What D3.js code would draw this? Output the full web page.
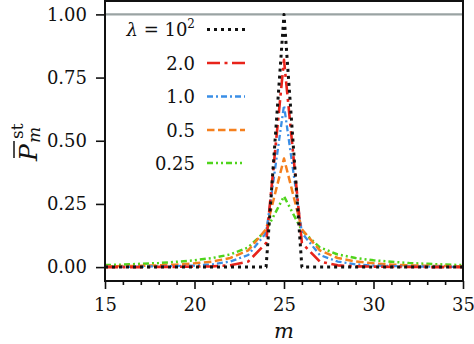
<!DOCTYPE html>
<html><head><meta charset="utf-8">
<script src="https://cdn.jsdelivr.net/npm/d3@7"></script>
<style>
html,body{margin:0;padding:0;background:#fff;}
svg{display:block;}
text{font-family:"DejaVu Serif",serif;fill:#111;}
</style></head>
<body><svg id="c" width="474" height="344"></svg>
<script>
// ---- data ----
const mValues = [15,16,17,18,19,20,21,22,23,24,25,26,27,28,29,30,31,32,33,34,35];
const lambdaLabels = ["10^2","2.0","1.0","0.5","0.25"];
const pLambda100 = [0,0,0,0,0,0,0,0,0,0,1.0,0,0,0,0,0,0,0,0,0,0];
const pLambda2   = [0,0,0,0.001,0.001,0.002,0.003,0.007,0.022,0.095,0.82,0.095,0.022,0.007,0.003,0.002,0.001,0.001,0,0,0];
const pLambda1   = [0.001,0.001,0.002,0.003,0.004,0.006,0.011,0.022,0.048,0.135,0.64,0.135,0.048,0.022,0.011,0.006,0.004,0.003,0.002,0.001,0.001];
const pLambda05  = [0.003,0.004,0.005,0.007,0.010,0.015,0.022,0.036,0.066,0.150,0.43,0.150,0.066,0.036,0.022,0.015,0.010,0.007,0.005,0.004,0.003];
const pLambda025 = [0.008,0.010,0.013,0.016,0.021,0.027,0.036,0.050,0.078,0.145,0.28,0.145,0.078,0.050,0.036,0.027,0.021,0.016,0.013,0.010,0.008];
const xTicks = [15,20,25,30,35];
const yTicks = [0,0.25,0.5,0.75,1.0];

const series = [
  {vals:pLambda025, color:"#4fd41c", dash:"6,3,2,3,2,3", w:2.5},
  {vals:pLambda05,  color:"#f5801e", dash:"7.5,3.5", w:2.5},
  {vals:pLambda1,   color:"#3a8ee6", dash:"6,3,2,3", w:2.3},
  {vals:pLambda2,   color:"#e8231a", dash:"13,4.5,3,4.5", w:2.6},
  {vals:pLambda100, color:"#111111", dash:"3,4", w:3}
];
const legendOrder = [4,3,2,1,0];

const svg = d3.select("#c");
const L=105, R=463, T=1, B=281;
const x = d3.scaleLinear().domain([15,35]).range([L,R]);
const y = d3.scaleLinear().domain([-0.055,1.053]).range([B,T]);

svg.append("clipPath").attr("id","clip").append("rect")
  .attr("x",L).attr("y",T).attr("width",R-L).attr("height",B-T);

// reference line at 1
svg.append("line").attr("x1",L).attr("x2",R).attr("y1",y(1)).attr("y2",y(1))
  .attr("stroke","#9aa3a3").attr("stroke-width",2.2);

const line = d3.line().x((d,i)=>x(mValues[i])).y(d=>y(d));
const g = svg.append("g").attr("clip-path","url(#clip)");
series.forEach(s=>{
  g.append("path").datum(s.vals).attr("d",line)
    .attr("fill","none").attr("stroke",s.color).attr("stroke-width",s.w)
    .attr("stroke-dasharray",s.dash).attr("stroke-linejoin","round");
});

// axes
const xAxis = d3.axisBottom(x).tickValues(xTicks).tickSize(8).tickPadding(9).tickFormat(d3.format("d"));
const xMinor = d3.axisBottom(x).tickValues(mValues.filter(v=>!xTicks.includes(v))).tickSize(4).tickFormat("");
const yAxis = d3.axisLeft(y).tickValues(yTicks).tickSize(9).tickPadding(9).tickFormat(d3.format(".2f"));

const gx = svg.append("g").attr("transform",`translate(0,${B})`).call(xAxis);
const gxm = svg.append("g").attr("transform",`translate(0,${B})`).call(xMinor);
const gy = svg.append("g").attr("transform",`translate(${L},0)`).call(yAxis);
[gx,gxm,gy].forEach(a=>{
  a.select(".domain").remove();
  a.selectAll(".tick line").attr("stroke","#111").attr("stroke-width",1.6);
  a.selectAll("text").style("font-family","'DejaVu Serif',serif").style("font-size","18px").attr("fill","#111");
});

// frame
svg.append("rect").attr("x",L).attr("y",T).attr("width",R-L).attr("height",B-T)
  .attr("fill","none").attr("stroke","#111").attr("stroke-width",2);

// x label
svg.append("text").attr("x",284).attr("y",338).attr("text-anchor","middle")
  .style("font-size","21px").style("font-style","italic").text("m");

// y label
const yl = svg.append("g").attr("transform","translate(37,161) rotate(-90)");
yl.append("text").attr("x",0).attr("y",0).style("font-size","25px").style("font-style","italic").text("P");
yl.append("line").attr("x1",3).attr("x2",20).attr("y1",-23).attr("y2",-23).attr("stroke","#111").attr("stroke-width",1.5);
yl.append("text").attr("x",22).attr("y",-14).style("font-size","17px").text("st");
yl.append("text").attr("x",18).attr("y",3).style("font-size","17px").style("font-style","italic").text("m");

// legend
const rows = [30,63.5,97,130.5,163.5];
legendOrder.forEach((si,k)=>{
  const s = series[si];
  const cy = rows[k];
  svg.append("line").attr("x1",207).attr("x2",245).attr("y1",cy-0.5).attr("y2",cy-0.5)
    .attr("stroke",s.color).attr("stroke-width",s.w).attr("stroke-dasharray",s.dash);
  const t = svg.append("text").attr("x",195).attr("y",cy+6).attr("text-anchor","end").style("font-size","18px");
  const lab = lambdaLabels[k];
  if(lab.includes("^")){
    const [b,e] = lab.split("^");
    t.append("tspan").style("font-style","italic").text("λ");
    t.append("tspan").text(" = "+b);
    t.append("tspan").attr("dy",-8).style("font-size","12px").text(e);
  } else {
    t.text(lab);
  }
});
</script></body></html>
